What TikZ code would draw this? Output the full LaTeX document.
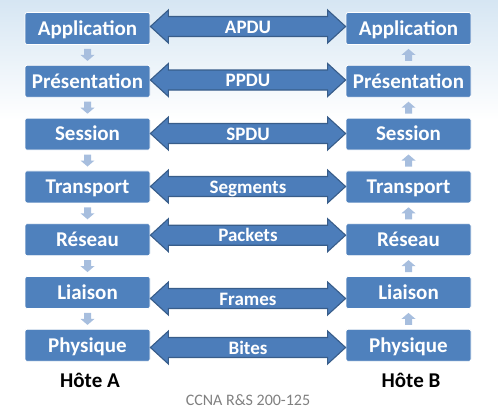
\documentclass[tikz,border=0pt]{standalone}
\usepackage{fontspec}
\setmainfont{Carlito}
\usetikzlibrary{calc}
\definecolor{boxblue}{RGB}{79,129,189}
\definecolor{arrblue}{RGB}{76,125,186}
\definecolor{arrdark}{RGB}{56,93,138}
\definecolor{smallblue}{RGB}{167,190,222}
\definecolor{skyblue}{RGB}{214,230,243}
\definecolor{footgray}{RGB}{128,128,128}
\tikzset{
  layerbox/.style={rectangle, rounded corners=2pt, fill=boxblue, draw=white, line width=0.8pt,
    minimum width=125pt, minimum height=32pt, inner sep=0pt, text=white,
    font=\fontsize{21}{25}\selectfont\bfseries, text height=14.5pt, text depth=1pt},
  pduarrow/.style={fill=arrblue, draw=arrdark, line width=1.1pt, line join=miter},
  pdulabel/.style={anchor=base, text=white, inner sep=0pt, font=\fontsize{19}{23}\selectfont\bfseries},
  smallarrow/.style={fill=smallblue, draw=none},
  hostlabel/.style={anchor=base, inner sep=0pt, font=\fontsize{21}{25}\selectfont\bfseries},
  footlabel/.style={anchor=base, inner sep=0pt, text=footgray, font=\fontsize{16}{19}\selectfont}
}
\begin{document}
\begin{tikzpicture}[x=1pt,y=-1pt]
\useasboundingbox (0,0) rectangle (498,415);
\shade[top color=skyblue, bottom color=white] (0,0) rectangle (498,120);
% boxes
\foreach \i/\t in {1/Application,2/Présentation,3/Session,4/Transport,5/Réseau,6/Liaison,7/Physique}{
  \node[layerbox] (L\i) at (87.5,{28.5+52.8*(\i-1)}) {\t};
  \node[layerbox] (R\i) at (408.5,{28.5+52.8*(\i-1)}) {\t};
}
% small arrows
\foreach \i [evaluate=\i as \j using int(\i+1)] in {1,...,6}{
  \fill[smallarrow] ($(L\i.south)+(-3.5,4)$) -- ($(L\i.south)+(3.5,4)$) -- ($(L\j.north)+(3.5,-10)$) -- ($(L\j.north)+(7,-10)$)
     -- ($(L\j.north)+(0,-4)$) -- ($(L\j.north)+(-7,-10)$) -- ($(L\j.north)+(-3.5,-10)$) -- cycle;
  \fill[smallarrow] ($(R\j.north)+(-3.5,-4)$) -- ($(R\j.north)+(3.5,-4)$) -- ($(R\i.south)+(3.5,10)$) -- ($(R\i.south)+(7,10)$)
     -- ($(R\i.south)+(0,4)$) -- ($(R\i.south)+(-7,10)$) -- ($(R\i.south)+(-3.5,10)$) -- cycle;
}
% double arrows
\foreach \i/\t/\d in {1/APDU/-2,2/PPDU/-1.3,3/SPDU/-0.6,4/Segments/-0.4,5/Packets/-4.5,6/Frames/6,7/Bites/2.2}{
  \coordinate (a\i) at ($(L\i.east)+(0,\d)$);
  \coordinate (b\i) at ($(R\i.west)+(0,\d)$);
  \draw[pduarrow] (a\i) -- ++(18,-16.5) -- ++(0,6.5) -- ($(b\i)+(-18,-10)$) -- ++(0,-6.5) -- (b\i)
     -- ++(-18,16.5) -- ++(0,-6.5) -- ($(a\i)+(18,10)$) -- ++(0,6.5) -- cycle;
  \node[pdulabel] (P\i) at ($(a\i)!0.5!(b\i)+(0,6.5)$) {\t};
}
\node[hostlabel] (HA) at (90,387) {Hôte A};
\node[hostlabel] (HB) at (411,387) {Hôte B};
\node[footlabel] (foot) at (248,405) {CCNA R\&S 200-125};
\end{tikzpicture}
\end{document}
